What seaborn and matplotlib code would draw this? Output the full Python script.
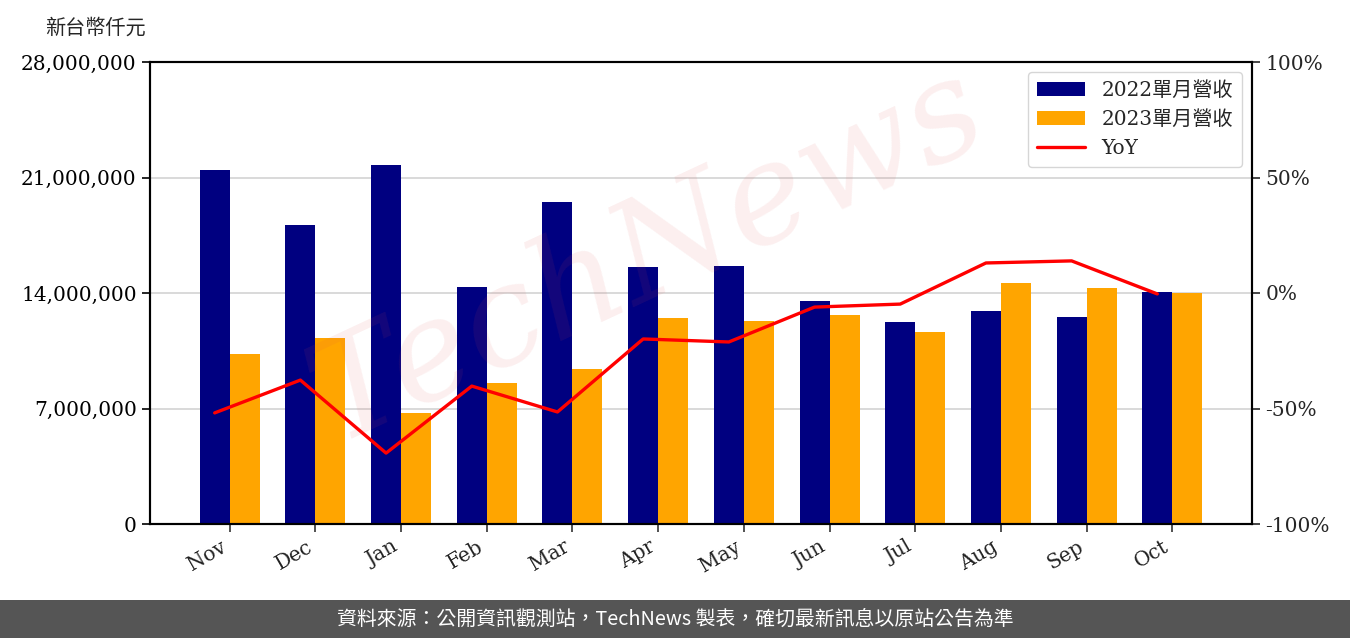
import numpy as np
import pandas as pd
import seaborn as sns
import matplotlib.pyplot as plt
from matplotlib.ticker import FuncFormatter, FixedLocator

sns.set_style("white")
plt.rcParams['font.family'] = ['DejaVu Serif', 'Noto Sans CJK TC']
plt.rcParams['axes.unicode_minus'] = False

months = ['Nov', 'Dec', 'Jan', 'Feb', 'Mar', 'Apr', 'May', 'Jun', 'Jul', 'Aug', 'Sep', 'Oct']
rev_2022 = [21450000, 18120000, 21760000, 14360000, 19520000, 15580000,
            15640000, 13520000, 12240000, 12910000, 12550000, 14060000]
rev_2023 = [10300000, 11270000, 6730000, 8550000, 9390000, 12480000,
            12300000, 12670000, 11640000, 14610000, 14300000, 14000000]
yoy = [-51.9, -37.7, -69.3, -40.3, -51.5, -19.9, -21.2, -6.1, -4.8, 13.0, 13.9, -0.4]

label_22 = '2022單月營收'
label_23 = '2023單月營收'

df = pd.DataFrame({
    'month': months * 2,
    'revenue': rev_2022 + rev_2023,
    'series': [label_22] * 12 + [label_23] * 12,
})

fs = 14.5

fig = plt.figure(figsize=(13.5, 6.38), dpi=100)
ax = fig.add_axes([150 / 1350, 1 - 524 / 638, 1102 / 1350, 462 / 638])

sns.barplot(data=df, x='month', y='revenue', hue='series', order=months,
            palette={label_22: '#000080', label_23: '#ffa500'},
            width=0.7, saturation=1, linewidth=0, ax=ax, zorder=2)

ax.set_ylim(0, 28000000)
ax.set_xlim(-0.93, 11.93)
ax.yaxis.set_major_locator(FixedLocator(np.arange(0, 28000001, 7000000)))
ax.yaxis.set_major_formatter(FuncFormatter(lambda v, p: f'{int(v):,}'))
ax.grid(axis='y', color='#d3d3d3', linewidth=1.2, zorder=0)
ax.set_axisbelow(True)
ax.set_xlabel('')
ax.set_ylabel('')
for s in ax.spines.values():
    s.set_color('black')
    s.set_linewidth(1.5)
ax.tick_params(axis='y', labelsize=fs, length=6, width=1.2, direction='out', left=True, colors='black')
ax.tick_params(axis='x', labelsize=fs, length=6, width=1.2, direction='out', bottom=True, colors='#333333')
for lab in ax.get_xticklabels():
    lab.set_rotation(30)
    lab.set_ha('right')
    lab.set_color('#222222')

# YoY line on right axis
ax2 = ax.twinx()
x_line = np.arange(len(months)) - 0.175
sns.lineplot(x=x_line, y=yoy, color='red', linewidth=2.4, ax=ax2, label='YoY', legend=False)
ax2.set_ylim(-100, 100)
ax2.yaxis.set_major_locator(FixedLocator([-100, -50, 0, 50, 100]))
ax2.yaxis.set_major_formatter(FuncFormatter(lambda v, p: f'{int(v)}%'))
ax2.tick_params(axis='y', labelsize=fs, length=6, width=1.2, direction='out', right=True)
for s in ax2.spines.values():
    s.set_color('black')
    s.set_linewidth(1.5)
ax2.set_xlim(-0.93, 11.93)

h1, l1 = ax.get_legend_handles_labels()
h2, l2 = ax2.get_legend_handles_labels()
ax.get_legend().remove()
ax2.legend(h1 + h2, l1 + l2, loc='upper right', fontsize=fs, frameon=True,
           fancybox=True, edgecolor='#cccccc', handlelength=2.4, borderpad=0.45,
           labelspacing=0.5)

fig.text(45 / 1350, 1 - 28 / 638, '新台幣仟元', fontsize=fs, va='center', ha='left')

# watermark
fig.text(0.48, 0.6, 'TechNews', fontsize=100, color='#e05050', alpha=0.09,
         rotation=25, ha='center', va='center', style='italic')

# footer band
fig.patches.append(plt.Rectangle((0, 0), 1, 38 / 638, transform=fig.transFigure,
                                 facecolor='#555555', edgecolor='none'))
fig.text(0.5, 19 / 638, '資料來源：公開資訊觀測站，TechNews 製表，確切最新訊息以原站公告為準',
         color='white', fontsize=14.3, ha='center', va='center',
         family=['Noto Sans CJK TC', 'DejaVu Sans'])

fig.savefig('out.png', dpi=100)
